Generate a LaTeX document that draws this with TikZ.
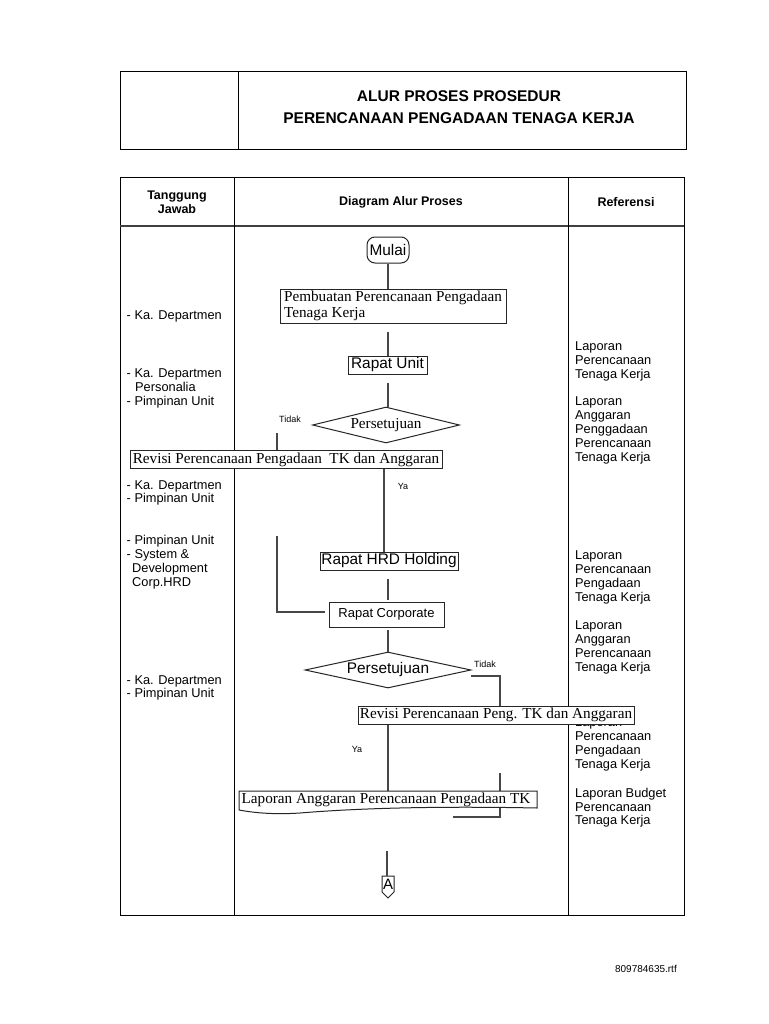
\documentclass[tikz,border=0pt]{standalone}
\usepackage{fontspec}
\setmainfont{Liberation Sans}
\newfontfamily\serifbox{Liberation Serif}
\usetikzlibrary{shapes.geometric,calc}
\begin{document}
\begin{tikzpicture}[x=1pt,y=-1pt,
  tbl/.style={draw=black,line width=1pt},
  conn/.style={draw=black!72,line width=1.3pt},
  bx/.style={draw=black!85,line width=1pt,fill=white,inner sep=0pt},
  sbox/.style={bx,font=\fontsize{15.4}{17}\selectfont},
  rbox/.style={bx,font=\serifbox\fontsize{15.2}{16.5}\selectfont},
  lbl/.style={inner sep=0pt,anchor=north west,align=left,font=\fontsize{12.8}{13.9}\selectfont},
  hdr/.style={inner sep=0pt,align=center,font=\bfseries\fontsize{12.5}{14}\selectfont},
  tiny/.style={inner sep=0pt,font=\fontsize{9}{10}\selectfont},
]
\fill[white] (0,0) rectangle (768,1024);
\useasboundingbox (0,0) rectangle (768,1024);

% header table
\draw[tbl] (120,72) rectangle (686,150);
\draw[tbl] (238,72) -- (238,150);
\node[inner sep=0pt,align=center,font=\bfseries\fontsize{15.5}{22}\selectfont] (title) at (459,107) {ALUR PROSES PROSEDUR\\PERENCANAAN PENGADAAN TENAGA KERJA};

% main table
\draw[tbl] (120,178) rectangle (684,915);
\draw[draw=black!75,line width=1.6pt] (120,226) -- (684,226);
\draw[tbl] (234,178) -- (234,915);
\draw[tbl] (568,178) -- (568,915);
\node[hdr] (h1) at (177,202) {Tanggung\\Jawab};
\node[hdr] (h2) at (401,202) {Diagram Alur Proses};
\node[hdr] (h3) at (626,202) {Referensi};

% left column
\node[lbl] (l1) at (126.5,310) {- Ka. Departmen};
\node[lbl] (l2) at (126.5,368.3) {- Ka. Departmen\\\hspace*{8.5pt}Personalia\\- Pimpinan Unit};
\node[lbl] (l3) at (126.5,480) {- Ka. Departmen\\- Pimpinan Unit};
\node[lbl] (l4) at (126.5,535) {- Pimpinan Unit\\- System \&\\\hspace*{5.5pt}Development\\\hspace*{5.5pt}Corp.HRD};
\node[lbl] (l5) at (126.5,675) {- Ka. Departmen\\- Pimpinan Unit};

% right column
\node[lbl] (r1) at (575,341.7) {Laporan\\Perencanaan\\Tenaga Kerja};
\node[lbl] (r2) at (575,396.7) {Laporan\\Anggaran\\Penggadaan\\Perencanaan\\Tenaga Kerja};
\node[lbl] (r3) at (575,550.7) {Laporan\\Perencanaan\\Pengadaan\\Tenaga Kerja};
\node[lbl] (r4) at (575,620.7) {Laporan\\Anggaran\\Perencanaan\\Tenaga Kerja};
\node[lbl] (r5) at (575,717.8) {Laporan\\Perencanaan\\Pengadaan\\Tenaga Kerja};
\node[lbl] (r6) at (575,787.7) {Laporan Budget\\Perencanaan\\Tenaga Kerja};

% helper coordinates
\coordinate (cx) at (388,0);
\coordinate (x384) at (384,0);
\coordinate (x500) at (500,0);

% flow nodes
\node[sbox,rounded corners=8pt,minimum width=42,minimum height=26] (mulai) at (388,250) {Mulai};
\node[rbox,align=left,minimum width=226,minimum height=34] (pemb) at (393,306) {Pembuatan Perencanaan Pengadaan\\Tenaga Kerja};
\node[sbox,minimum width=79,minimum height=18] (ru) at (387.5,365) {Rapat Unit};
\node[rbox,shape=diamond,aspect=4,minimum width=147,minimum height=36] (d1) at (386,425) {Persetujuan};
\node[tiny] (t1) at (290,419) {Tidak};
\node[rbox,minimum width=312,minimum height=17.5] (rev1) at (286,459.5) {Revisi Perencanaan Pengadaan\ \ TK dan Anggaran};
\node[tiny] (ya1) at (403,486) {Ya};
\node[sbox,minimum width=138,minimum height=18] (hrd) at (389,561) {Rapat HRD Holding};
\node[bx,font=\fontsize{13}{15}\selectfont,minimum width=115,minimum height=25] (rc) at (386.5,614.5) {Rapat Corporate};
\node[sbox,shape=diamond,aspect=4,minimum width=166,minimum height=36] (d2) at (388,670) {Persetujuan};
\node[tiny] (t2) at (485,664) {Tidak};
\node[rbox,minimum width=276,minimum height=18] (rev2) at (496,715) {Revisi Perencanaan Peng. TK dan Anggaran};
\node[tiny] (ya2) at (357,749) {Ya};

% connectors (behind boxes)
\coordinate (t1a) at (277,433);
\coordinate (loopTop) at (277,536);
\coordinate (fb) at (500,773);
\coordinate (atop) at (387,851);
\draw[conn] (mulai.south) -- (pemb.north -| mulai.south);
\draw[conn] ([yshift=-8]pemb.south -| cx) -- (ru.north -| cx);
\draw[conn] ([yshift=-8]ru.south -| cx) -- (cx |- d1.north);
\draw[conn] (t1a) -- (t1a |- rev1.north);
\draw[conn] (rev1.south -| x384) -- (hrd.north -| x384);
\draw[conn] ([yshift=-8]hrd.south -| cx) -- ([yshift=2]rc.north -| cx);
\draw[conn] (loopTop) |- ([xshift=-4,yshift=2.5]rc.west);
\draw[conn] ([yshift=-2]rc.south -| cx) -- (d2.north);
\draw[conn] ($(d2.east)+(-1,6)$) -| (rev2.north -| x500);
\draw[conn] (rev2.south -| cx) -- (cx |- 0,791);
\draw[conn] (fb) -- (500,817) -- (453,817);

% document shape
\node[inner sep=0pt,minimum width=298,minimum height=20] (lap) at (388,801) {};
\draw[bx] (239,791) -- (537,791) -- (537,808) .. controls (440,806) and (360,808) .. (300,813) .. controls (270,815) and (250,812) .. (239,810) -- cycle;
\node[inner sep=0pt,font=\serifbox\fontsize{15.2}{16.5}\selectfont] (laptext) at (386,799.5) {Laporan Anggaran Perencanaan Pengadaan TK};

% off-page connector
\draw[bx] (382,876) -- (394,876) -- (394,892) -- (388,898) -- (382,892) -- cycle;
\node[inner sep=0pt,minimum width=12,minimum height=16,font=\fontsize{15}{17}\selectfont] (A) at (388,884) {A};
\draw[conn] (atop) -- (atop |- A.north);

% footer
\node[inner sep=0pt,anchor=east,font=\fontsize{10}{12}\selectfont] (foot) at (677,969) {809784635.rtf};
\end{tikzpicture}
\end{document}
